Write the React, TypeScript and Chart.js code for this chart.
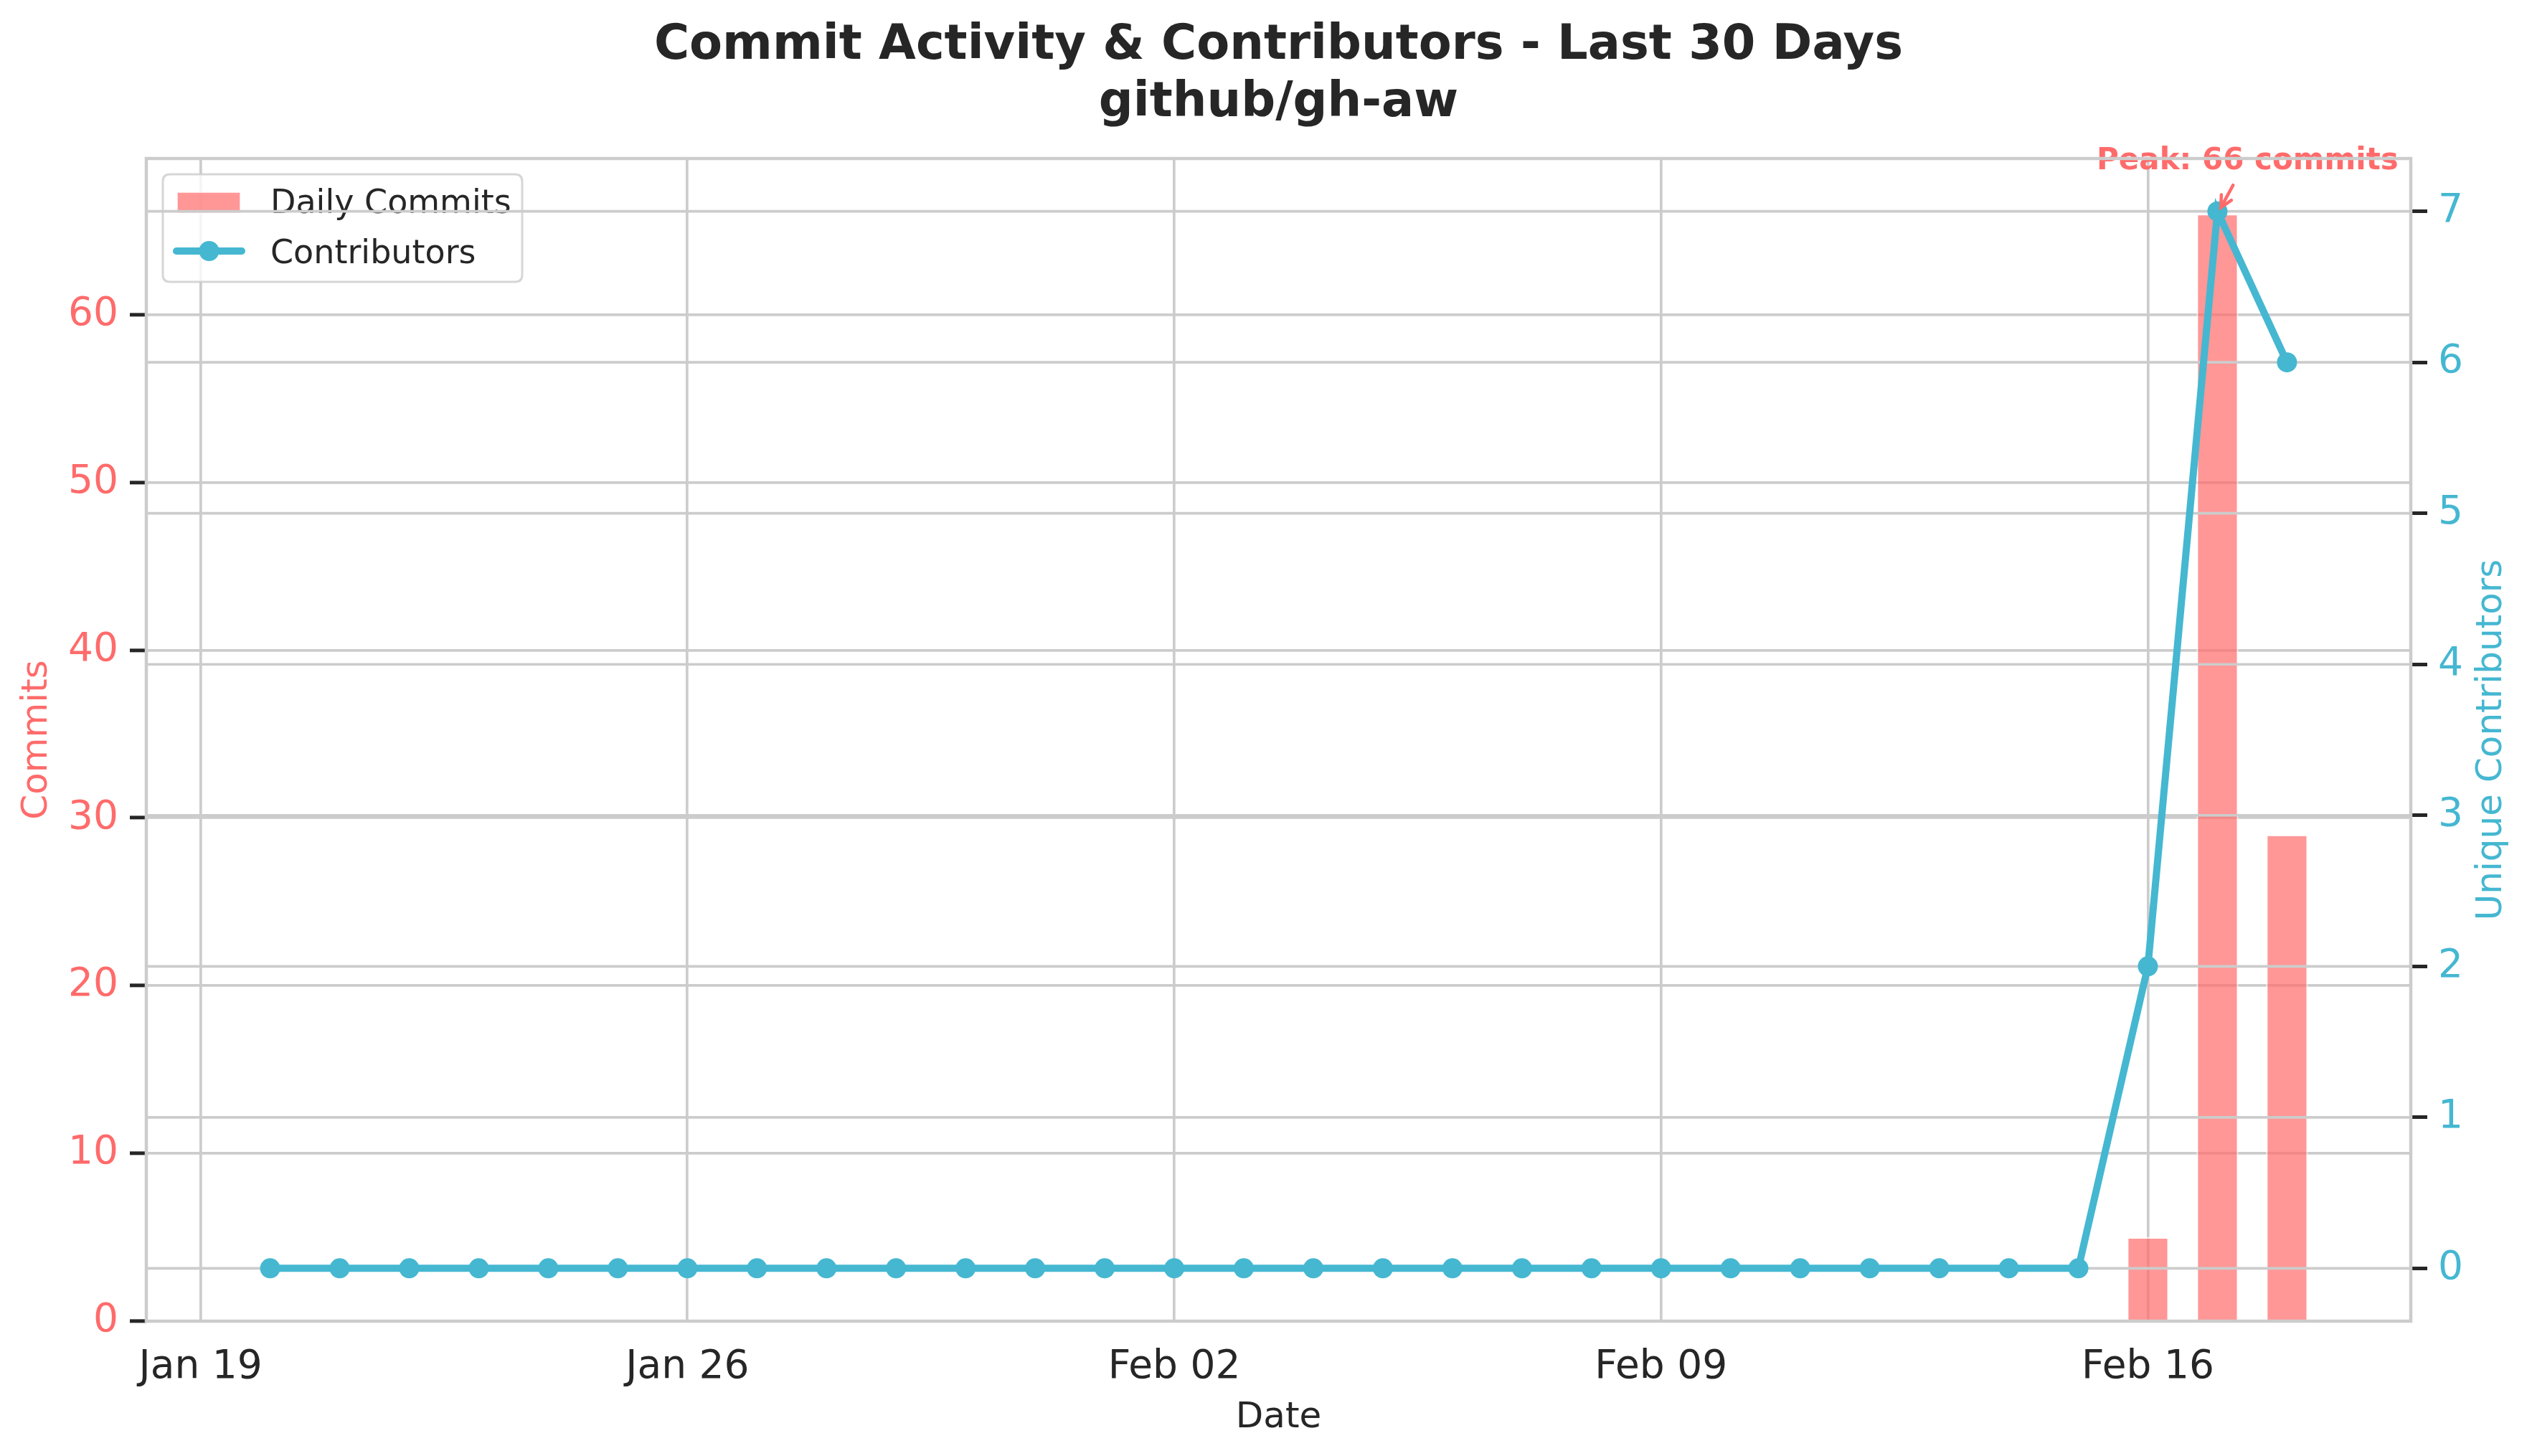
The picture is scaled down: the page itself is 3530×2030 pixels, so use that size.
import React, { useEffect, useRef } from 'react';
import { Chart, registerables } from 'chart.js';

Chart.register(...registerables);

// ---------- data ----------
const originDate = '2026-01-19';
const dates = [
  '2026-01-20', '2026-01-21', '2026-01-22', '2026-01-23', '2026-01-24', '2026-01-25',
  '2026-01-26', '2026-01-27', '2026-01-28', '2026-01-29', '2026-01-30', '2026-01-31',
  '2026-02-01', '2026-02-02', '2026-02-03', '2026-02-04', '2026-02-05', '2026-02-06',
  '2026-02-07', '2026-02-08', '2026-02-09', '2026-02-10', '2026-02-11', '2026-02-12',
  '2026-02-13', '2026-02-14', '2026-02-15', '2026-02-16', '2026-02-17', '2026-02-18',
];
const commits = [
  0, 0, 0, 0, 0, 0,
  0, 0, 0, 0, 0, 0,
  0, 0, 0, 0, 0, 0,
  0, 0, 0, 0, 0, 0,
  0, 0, 0, 5, 66, 29,
];
const contributors = [
  0, 0, 0, 0, 0, 0,
  0, 0, 0, 0, 0, 0,
  0, 0, 0, 0, 0, 0,
  0, 0, 0, 0, 0, 0,
  0, 0, 0, 2, 7, 6,
];
const xTickDates = ['2026-01-19', '2026-01-26', '2026-02-02', '2026-02-09', '2026-02-16'];
const xTickLabels = ['Jan 19', 'Jan 26', 'Feb 02', 'Feb 09', 'Feb 16'];
const commitTicks = [0, 10, 20, 30, 40, 50, 60];
const contributorTicks = [0, 1, 2, 3, 4, 5, 6, 7];
const peakDate = '2026-02-17';
const peakCommits = 66;

const titleLines = ['Commit Activity & Contributors - Last 30 Days', 'github/gh-aw'];

// axis limits (days since origin / values)
const xMinDays = -0.78;
const xMaxDays = 31.78;
const yCommitsMax = 69.3;
const yContribMin = -0.35;
const yContribMax = 7.35;

const dayNum = (d: string) => (Date.parse(d + 'T00:00:00Z') - Date.parse(originDate + 'T00:00:00Z')) / 86400000;

// ---------- styles ----------
const FONT = "'DejaVu Sans', 'Liberation Sans', sans-serif";
const RED = '#FF6B6B';
const RED_A = 'rgba(255,107,107,0.7)';
const BLUE = '#45B7D1';
const TEXT = '#262626';
const GRID = '#cccccc';

const W = 3530;
const H = 2030;

export default function App() {
  const ref = useRef<HTMLCanvasElement | null>(null);

  useEffect(() => {
    const canvas = ref.current;
    if (!canvas) return;
    Chart.defaults.font.family = FONT;

    const xs = dates.map(dayNum);
    const xTickValues = xTickDates.map(dayNum);

    const overlay = {
      id: 'overlay',
      beforeDatasetDraw(chart: any, args: any) {
        if (args.meta.type !== 'line') return;
        const ctx = chart.ctx;
        const ca = chart.chartArea;
        // legend (belongs to the first axes, drawn under second axes grid)
        ctx.save();
        const bx = 227, by = 243, bw = 501, bh = 150, r = 10;
        ctx.beginPath();
        ctx.moveTo(bx + r, by);
        ctx.lineTo(bx + bw - r, by);
        ctx.quadraticCurveTo(bx + bw, by, bx + bw, by + r);
        ctx.lineTo(bx + bw, by + bh - r);
        ctx.quadraticCurveTo(bx + bw, by + bh, bx + bw - r, by + bh);
        ctx.lineTo(bx + r, by + bh);
        ctx.quadraticCurveTo(bx, by + bh, bx, by + bh - r);
        ctx.lineTo(bx, by + r);
        ctx.quadraticCurveTo(bx, by, bx + r, by);
        ctx.closePath();
        ctx.fillStyle = 'rgba(255,255,255,0.8)';
        ctx.fill();
        ctx.strokeStyle = 'rgba(204,204,204,0.8)';
        ctx.lineWidth = 3;
        ctx.stroke();
        // bar patch
        ctx.fillStyle = RED_A;
        ctx.fillRect(247, 268, 88, 29);
        ctx.strokeStyle = 'rgba(255,255,255,0.7)';
        ctx.lineWidth = 2;
        ctx.strokeRect(247, 268, 88, 29);
        // line handle
        ctx.strokeStyle = BLUE;
        ctx.lineWidth = 10;
        ctx.lineCap = 'round';
        ctx.beginPath();
        ctx.moveTo(246, 350);
        ctx.lineTo(337, 350);
        ctx.stroke();
        ctx.fillStyle = BLUE;
        ctx.beginPath();
        ctx.arc(291.5, 350, 14, 0, Math.PI * 2);
        ctx.fill();
        ctx.fillStyle = TEXT;
        ctx.font = `46px ${FONT}`;
        ctx.textAlign = 'left';
        ctx.textBaseline = 'alphabetic';
        ctx.fillText('Daily Commits', 377, 297);
        ctx.fillText('Contributors', 377, 367);
        ctx.restore();

        // grid of the right axis, drawn above bars
        const y1 = chart.scales.y1;
        ctx.save();
        ctx.strokeStyle = GRID;
        ctx.lineWidth = 3.7;
        ctx.lineCap = 'butt';
        for (const v of contributorTicks) {
          const py = y1.getPixelForValue(v);
          ctx.beginPath();
          ctx.moveTo(ca.left, py);
          ctx.lineTo(ca.right, py);
          ctx.stroke();
        }
        ctx.restore();
      },
      afterDatasetsDraw(chart: any) {
        const ctx = chart.ctx;
        const px = chart.scales.x.getPixelForValue(dayNum(peakDate));
        const py = chart.scales.y.getPixelForValue(peakCommits);
        const tx = px + 42;
        const tBase = py - 62;
        ctx.save();
        ctx.fillStyle = RED;
        ctx.font = `bold 42px ${FONT}`;
        ctx.textAlign = 'center';
        ctx.textBaseline = 'alphabetic';
        ctx.fillText(`Peak: ${peakCommits} commits`, tx, tBase);
        // arrow
        const cx = tx, cy = tBase - 15;
        const dx = px - cx, dy = py - cy;
        const len = Math.hypot(dx, dy);
        const ux = dx / len, uy = dy / len;
        const tStart = (tBase + 22 - cy) / uy;
        const sx = cx + ux * tStart, sy = cy + uy * tStart;
        const ex = px - ux * 10, ey = py - uy * 10;
        ctx.strokeStyle = RED;
        ctx.lineWidth = 4.5;
        ctx.lineCap = 'round';
        ctx.beginPath();
        ctx.moveTo(sx, sy);
        ctx.lineTo(ex, ey);
        ctx.stroke();
        const hl = 16, hw = 8;
        const bxp = ex - ux * hl, byp = ey - uy * hl;
        ctx.beginPath();
        ctx.moveTo(bxp - uy * hw, byp + ux * hw);
        ctx.lineTo(ex, ey);
        ctx.lineTo(bxp + uy * hw, byp - ux * hw);
        ctx.stroke();
        ctx.restore();
      },
      afterDraw(chart: any) {
        const ctx = chart.ctx;
        const ca = chart.chartArea;
        ctx.save();
        // spines
        ctx.strokeStyle = GRID;
        ctx.lineWidth = 4.5;
        ctx.strokeRect(ca.left, ca.top, ca.right - ca.left, ca.bottom - ca.top);
        // title
        ctx.fillStyle = TEXT;
        ctx.font = `bold 67px ${FONT}`;
        ctx.textAlign = 'center';
        ctx.textBaseline = 'alphabetic';
        const mid = (ca.left + ca.right) / 2;
        ctx.fillText(titleLines[0], mid, 82);
        ctx.fillText(titleLines[1], mid, 162);
        // right axis title (reads bottom to top)
        ctx.translate(3474, (ca.top + ca.bottom) / 2);
        ctx.rotate(-Math.PI / 2);
        ctx.fillStyle = BLUE;
        ctx.font = `50px ${FONT}`;
        ctx.textAlign = 'center';
        ctx.textBaseline = 'middle';
        ctx.fillText('Unique Contributors', 0, 0);
        ctx.restore();
      },
    };

    const chart = new Chart(canvas, {
      type: 'bar',
      data: {
        datasets: [
          {
            type: 'bar',
            label: 'Daily Commits',
            data: xs.map((x, i) => ({ x, y: commits[i] })),
            backgroundColor: RED_A,
            borderColor: 'rgba(255,255,255,0.7)',
            borderWidth: 2,
            barPercentage: 0.6,
            categoryPercentage: 1,
            xAxisID: 'x',
            yAxisID: 'y',
            order: 2,
          },
          {
            type: 'line',
            label: 'Contributors',
            data: xs.map((x, i) => ({ x, y: contributors[i] })),
            borderColor: BLUE,
            backgroundColor: BLUE,
            borderWidth: 10,
            pointRadius: 14,
            pointBorderWidth: 0,
            pointBackgroundColor: BLUE,
            tension: 0,
            xAxisID: 'x',
            yAxisID: 'y1',
            order: 1,
            clip: false,
          },
        ],
      } as any,
      options: {
        responsive: false,
        maintainAspectRatio: false,
        animation: false,
        devicePixelRatio: 1,
        layout: { padding: { top: 221, left: 0, right: 0, bottom: 0 } },
        plugins: {
          legend: { display: false },
          title: { display: false },
          tooltip: { enabled: false },
        },
        scales: {
          x: {
            type: 'linear',
            min: xMinDays,
            max: xMaxDays,
            offset: false,
            afterBuildTicks: (s: any) => {
              s.ticks = xTickValues.map((v) => ({ value: v }));
            },
            afterFit: (s: any) => {
              s.height = H - 1842;
            },
            ticks: {
              autoSkip: false,
              maxRotation: 0,
              color: TEXT,
              font: { size: 55, family: FONT },
              padding: 32,
              callback: (v: any) => {
                const idx = xTickValues.indexOf(Number(v));
                return idx >= 0 ? xTickLabels[idx] : '';
              },
            },
            grid: { color: GRID, lineWidth: 3.7, drawTicks: false, offset: false },
            border: { display: false },
            title: {
              display: true,
              text: 'Date',
              color: TEXT,
              font: { size: 50, family: FONT },
              padding: { top: 0, bottom: 23 },
            },
          },
          y: {
            type: 'linear',
            position: 'left',
            min: 0,
            max: yCommitsMax,
            afterBuildTicks: (s: any) => {
              s.ticks = commitTicks.map((v) => ({ value: v }));
            },
            afterFit: (s: any) => {
              s.width = 204;
            },
            ticks: {
              color: RED,
              font: { size: 55, family: FONT },
              padding: 16,
            },
            grid: {
              color: GRID,
              lineWidth: 3.7,
              drawTicks: true,
              tickLength: 23,
              tickColor: TEXT,
              tickWidth: 5,
            },
            border: { display: false },
            title: {
              display: true,
              text: 'Commits',
              color: RED,
              font: { size: 50, family: FONT },
              padding: { top: 22, bottom: 0 },
            },
          },
          y1: {
            type: 'linear',
            position: 'right',
            min: yContribMin,
            max: yContribMax,
            afterBuildTicks: (s: any) => {
              s.ticks = contributorTicks.map((v) => ({ value: v }));
            },
            afterFit: (s: any) => {
              s.width = W - 3361;
            },
            ticks: {
              color: BLUE,
              font: { size: 55, family: FONT },
              padding: 15,
            },
            grid: {
              drawOnChartArea: false,
              drawTicks: true,
              tickLength: 23,
              tickColor: TEXT,
              tickWidth: 5,
            },
            border: { display: false },
            title: { display: false },
          },
        },
      } as any,
      plugins: [overlay],
    });

    return () => {
      chart.destroy();
    };
  }, []);

  return (
    <div style={{ position: 'absolute', left: 0, top: 0, width: W, height: H, background: '#ffffff' }}>
      <canvas ref={ref} width={W} height={H} style={{ display: 'block', width: W, height: H }} />
    </div>
  );
}
